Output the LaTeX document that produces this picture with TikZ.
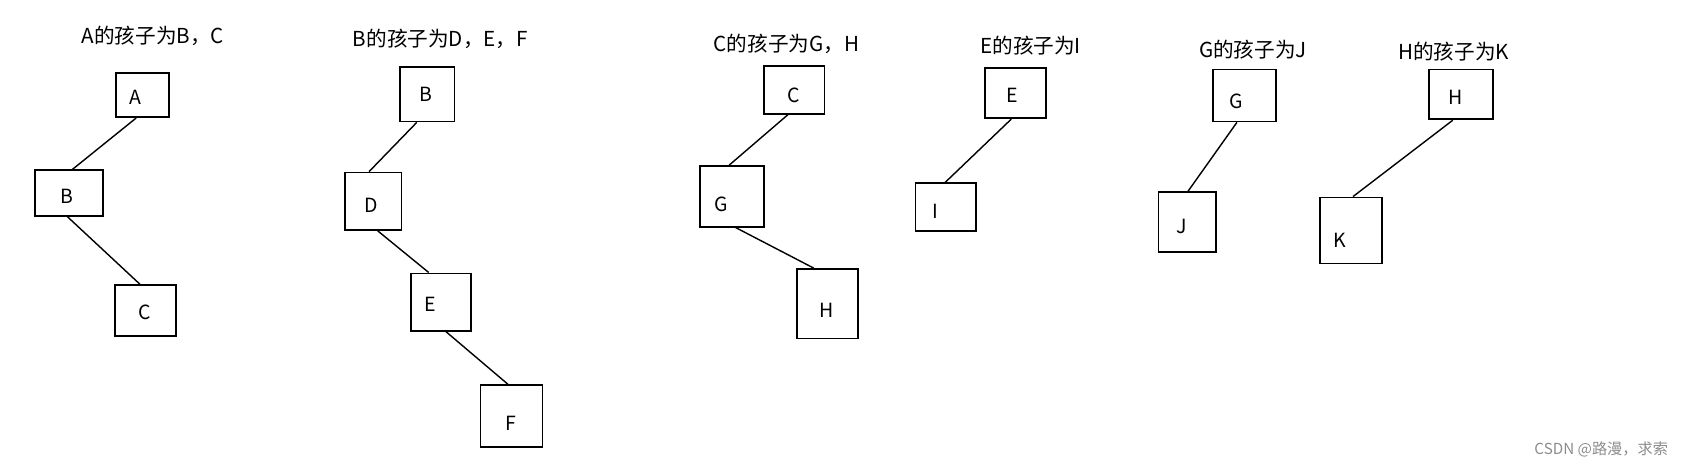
\documentclass[tikz,border=0pt]{standalone}
\usepackage{fontspec}
\setmainfont{Noto Sans CJK SC}
\begin{document}
\begin{tikzpicture}[x=1pt,y=-1pt,
  bx/.style={draw,line width=1.6pt,inner sep=0pt},
  lt/.style={font=\fontsize{18}{18}\selectfont,inner sep=0pt},
  captxt/.style={font=\fontsize{19}{19}\selectfont,inner sep=0pt},
  ed/.style={line width=1.3pt}]
\useasboundingbox (0,0) rectangle (1568,432);
\newcommand\bxn[5]{\node[bx,minimum width={#4-#2},minimum height={#5-#3}] (#1) at ({(#2+#4)/2},{(#3+#5)/2}) {};}
\bxn{A}{107}{67}{156}{108}
\bxn{B}{32}{157}{95}{199}
\bxn{C}{106}{263}{162}{310}
\bxn{B2}{369}{62}{419}{112}
\bxn{D}{318}{159}{370}{212}
\bxn{E}{379}{252}{434}{305}
\bxn{F}{443}{355}{500}{412}
\bxn{C3}{704}{61}{760}{105}
\bxn{G}{645}{153}{704}{209}
\bxn{H}{735}{248}{791}{312}
\bxn{E4}{908}{63}{964}{109}
\bxn{I}{844}{169}{900}{213}
\bxn{G5}{1118}{64}{1176}{112}
\bxn{J}{1068}{177}{1121}{232}
\bxn{H6}{1317}{64}{1376}{110}
\bxn{K}{1217}{182}{1274}{243}
\node[lt] (tA) at (125,90) {A};
\node[lt] (tB) at (62,181) {B};
\node[lt] (tC) at (133,288) {C};
\node[lt] (tB2) at (393,87) {B};
\node[lt] (tD) at (342,189) {D};
\node[lt] (tE) at (397,281) {E};
\node[lt] (tF) at (471,390) {F};
\node[lt] (tC3) at (732,88) {C};
\node[lt] (tG) at (665,188) {G};
\node[lt] (tH) at (762,286) {H};
\node[lt] (tE4) at (933,88) {E};
\node[lt] (tI) at (862,195) {I};
\node[lt] (tG5) at (1140,93) {G};
\node[lt] (tJ) at (1089,209) {J};
\node[lt] (tK) at (1235,222) {K};
\node[lt] (tH6) at (1342,90) {H};
\node[captxt] (l1) at (141,33) {A的孩子为B，C};
\node[captxt] (l2) at (406,36) {B的孩子为D，E，F};
\node[captxt] (l3) at (725,40) {C的孩子为G，H};
\node[captxt] (l4) at (950,42) {E的孩子为I};
\node[captxt] (l5) at (1155,46) {G的孩子为J};
\node[captxt] (l6) at (1340,48) {H的孩子为K};
\node[font=\fontsize{14}{14}\selectfont,text=black!45,inner sep=0pt] (wm) at (1476,414) {CSDN @路漫，求索};
\draw[ed] ([xshift=-6pt]A.south) -- ([xshift=35.5pt]B.north west);
\draw[ed] ([xshift=31pt]B.south west) -- ([xshift=24pt]C.north west);
\draw[ed] ([xshift=16pt]B2.south west) -- ([xshift=23pt]D.north west);
\draw[ed] ([xshift=31pt]D.south west) -- ([xshift=17pt]E.north west);
\draw[ed] ([xshift=33pt]E.south west) -- ([xshift=26pt]F.north west);
\draw[ed] ([xshift=23pt]C3.south west) -- ([xshift=28pt]G.north west);
\draw[ed] ([xshift=34pt]G.south west) -- ([xshift=16pt]H.north west);
\draw[ed] ([xshift=25pt]E4.south west) -- ([xshift=28pt]I.north west);
\draw[ed] ([xshift=23pt]G5.south west) -- ([xshift=28pt]J.north west);
\draw[ed] ([xshift=23pt]H6.south west) -- ([xshift=31pt]K.north west);
\end{tikzpicture}
\end{document}
